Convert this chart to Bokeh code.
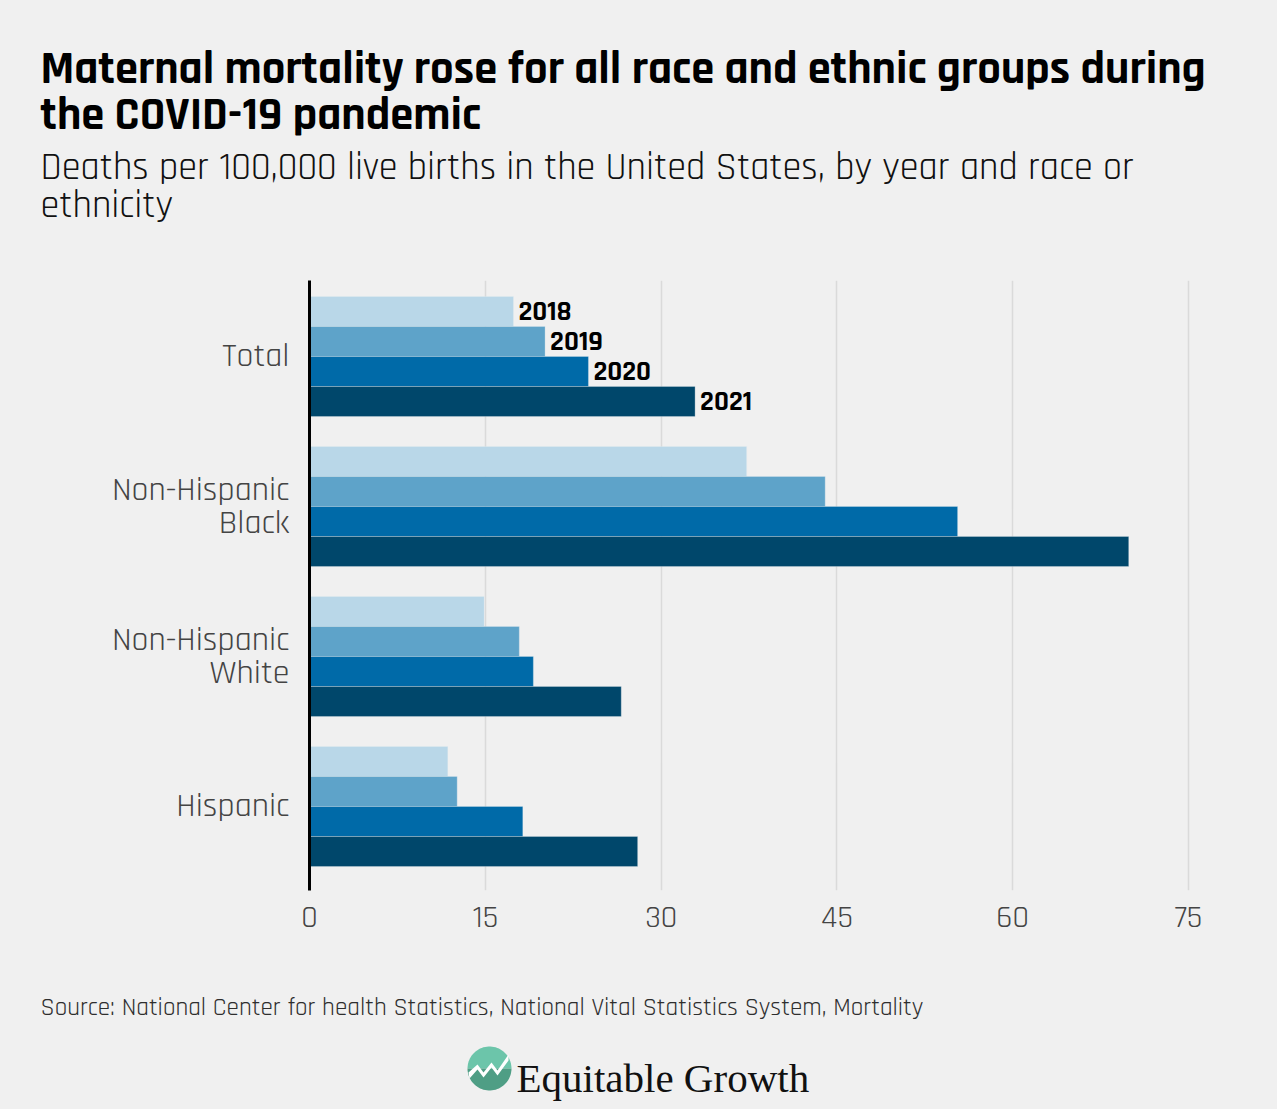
import numpy as np
from bokeh.plotting import figure
from bokeh.models import ColumnDataSource, Range1d, FixedTicker
from bokeh.core.properties import value
from bokeh.embed import file_html
from bokeh.resources import INLINE

groups = ["Total", "Non-Hispanic\nBlack", "Non-Hispanic\nWhite", "Hispanic"]
years = ["2018", "2019", "2020", "2021"]
v2018 = [17.4, 37.3, 14.9, 11.8]
v2019 = [20.1, 44.0, 17.9, 12.6]
v2020 = [23.8, 55.3, 19.1, 18.2]
v2021 = [32.9, 69.9, 26.6, 28.0]
colors = ["#b9d7e8", "#5ea3c9", "#006aa8", "#00476b"]
x_ticks = [0, 15, 30, 45, 60, 75]

title_lines = ["Maternal mortality rose for all race and ethnic groups during", "the COVID-19 pandemic"]
subtitle_lines = ["Deaths per 100,000 live births in the United States, by year and race or", "ethnicity"]
source_text = "Source: National Center for health Statistics, National Vital Statistics System, Mortality"
brand = "Equitable Growth"

FONT = "Rajdhani, 'Liberation Sans Narrow', 'DejaVu Sans Condensed', sans-serif"
BG = "#f0f0f0"
W = 1277
H_HEAD, H_MAIN, H_FOOT = 240, 720, 149


def blank(h):
    f = figure(width=W, height=h, output_backend="svg", toolbar_location=None,
               x_range=Range1d(0, W), y_range=Range1d(h, 0),
               x_axis_type=None, y_axis_type=None,
               min_border=0, min_border_left=0, min_border_right=0,
               min_border_top=0, min_border_bottom=0)
    f.background_fill_color = BG
    f.border_fill_color = BG
    f.outline_line_color = None
    f.grid.visible = False
    return f


def txt(f, s, x, y, size, style="normal", color="#000000", font=FONT):
    f.text(x=[x], y=[y], text=[s], text_font=value(font), text_font_size=size,
           text_font_style=style, text_color=color, text_baseline="alphabetic", text_align="left")


# ---------------- header ----------------
head = blank(H_HEAD)
txt(head, title_lines[0], 40, 69, "46.6px", "bold")
txt(head, title_lines[1], 40, 115, "46.6px", "bold")
txt(head, subtitle_lines[0], 40, 167, "38.2px", "normal", "#111111")
txt(head, subtitle_lines[1], 40, 205, "38.2px", "normal", "#111111")

# ---------------- main chart ----------------
p = figure(width=W, height=H_MAIN, output_backend="svg", toolbar_location=None,
           x_range=Range1d(0, 76.45), y_range=Range1d(17.8, -2.533),
           min_border_left=309, min_border_right=72, min_border_top=40, min_border_bottom=70)
p.background_fill_color = BG
p.border_fill_color = BG
p.outline_line_color = None

series = [v2018, v2019, v2020, v2021]
offsets = [-1.5, -0.5, 0.5, 1.5]
for k, (yr, vals) in enumerate(zip(years, series)):
    ys = [g * 5 + offsets[k] for g in range(len(groups))]
    src = ColumnDataSource(dict(y=ys, right=vals))
    p.hbar(y="y", right="right", left=0, height=1.0, source=src,
           fill_color=colors[k], line_color="#e8eef2", line_width=0.6, line_alpha=0.5)

lab_src = ColumnDataSource(dict(x=[s[0] for s in series], y=offsets, t=years))
p.text(x="x", y="y", text="t", source=lab_src, x_offset=5, text_align="left", text_baseline="middle",
       text_font=value(FONT), text_font_style="bold", text_font_size="28px", text_color="#000000")

p.xaxis.ticker = FixedTicker(ticks=x_ticks)
p.xaxis.axis_line_color = None
p.xaxis.major_tick_line_color = None
p.xaxis.minor_tick_line_color = None
p.xaxis.major_label_text_font = FONT
p.xaxis.major_label_text_font_size = "32px"
p.xaxis.major_label_text_color = "#444444"
p.xaxis.major_label_standoff = 10

# category labels: one tick per label line, centred on each group
ytick_pos, ytick_txt = [], []
LINE = 1.1  # one text line = 33 px = 1.1 data units
for g, name in enumerate(groups):
    parts = name.split("\n")
    n = len(parts)
    for i, part in enumerate(parts):
        pos = g * 5 + (i - (n - 1) / 2) * LINE
        ytick_pos.append(pos)
        ytick_txt.append(part)
p.yaxis.ticker = FixedTicker(ticks=ytick_pos)
p.yaxis.major_label_overrides = dict(zip(ytick_pos, ytick_txt))
p.yaxis.axis_line_color = "#000000"
p.yaxis.axis_line_width = 3
p.yaxis.major_tick_line_color = None
p.yaxis.minor_tick_line_color = None
p.yaxis.major_label_text_font = FONT
p.yaxis.major_label_text_font_size = "34px"
p.yaxis.major_label_text_color = "#444444"
p.yaxis.major_label_standoff = 14

p.xgrid.grid_line_color = "#dadada"
p.xgrid.grid_line_width = 1.5
p.ygrid.grid_line_color = None

# ---------------- footer ----------------
foot = blank(H_FOOT)
txt(foot, source_text, 40, 47, "25.2px", "normal", "#2e2e2e")

cx, cy, r = 489, 108, 22
th = np.linspace(0, np.pi, 40)
foot.patch(x=list(cx + r * np.cos(th)), y=list(cy - r * np.sin(th)), fill_color="#6cc5aa", line_color=None)
foot.patch(x=list(cx + r * np.cos(th)), y=list(cy + r * np.sin(th)), fill_color="#4f9e85", line_color=None)
zx = [cx - r + 1, cx - 12, cx - 6, cx + 2, cx + 8, cx + r - 3, cx + r - 3, cx + 8, cx + 2, cx - 6, cx - 12, cx - r + 2]
zy = [cy + 4, cy - 4, cy + 4, cy - 6, cy + 2, cy - 14, cy - 8, cy + 7, cy - 1, cy + 9, cy + 1, cy + 10]
foot.patch(x=zx, y=zy, fill_color="#ffffff", line_color=None)
txt(foot, brand, 516, 117, "41px", "normal", "#111111", "'Liberation Serif', 'DejaVu Serif', serif")

html = file_html([head, p, foot], INLINE)
style = ("<style>html,body{margin:0;padding:0;background:%s !important;}"
         "body>div{line-height:0;}</style>" % BG)
if "</head>" in html:
    html = html.replace("</head>", style + "</head>", 1)
else:
    html = style + html
open("out.html", "w").write(html)
